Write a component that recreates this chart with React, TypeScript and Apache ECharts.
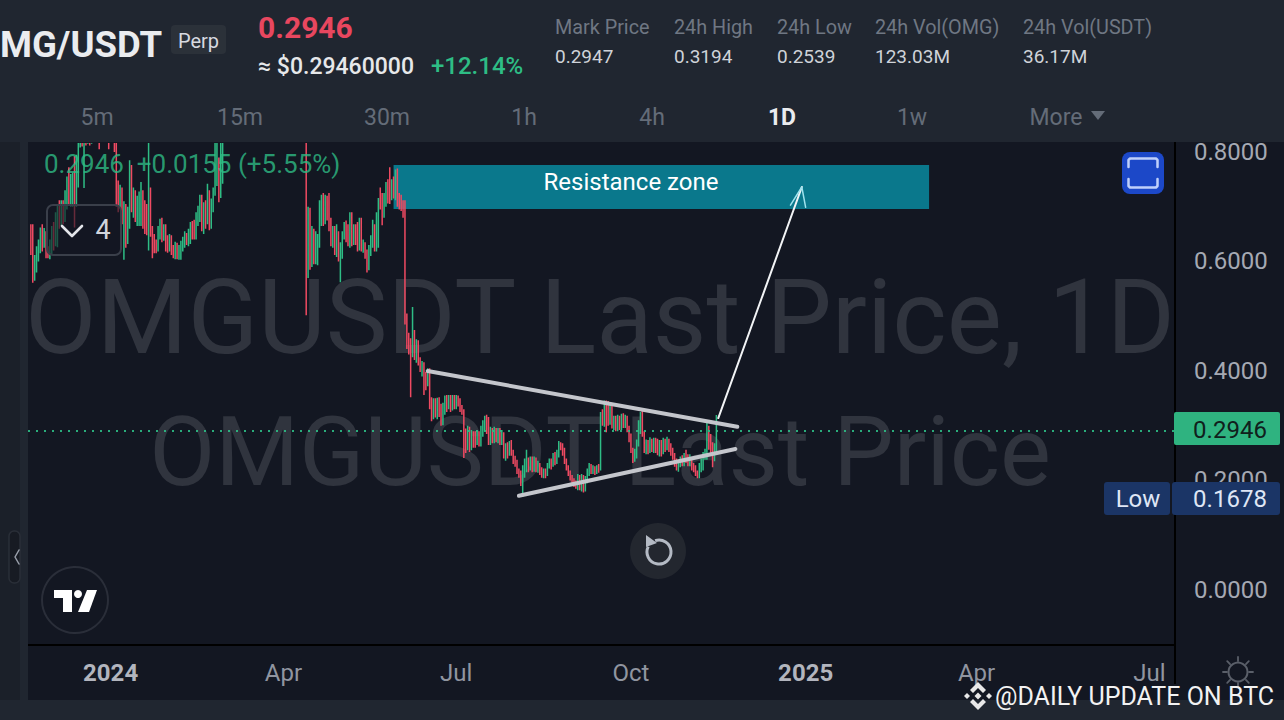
import React, { useEffect, useRef } from "react";
import * as echarts from "echarts";

// ---------- axis data ----------
const firstDay = "2023-11-19";
const dayCount = 604;
const tickDates = ["2024-01-01", "2024-04-01", "2024-07-01", "2024-10-01", "2025-01-01", "2025-04-01", "2025-07-01"];
const tickTexts = ["{b|2024}", "Apr", "Jul", "Oct", "{b|2025}", "Apr", "Jul"];
const priceTicks = [0, 0.2, 0.4, 0.6, 0.8];

// ---------- candles: [open, close, low, high] ----------
const winterStart = "2023-11-20";
const winterCandles = [
  [.650,.625,.612,.668],[.625,.590,.561,.668],[.590,.600,.565,.612],[.600,.618,.580,.628],[.618,.632,.600,.640],
  [.632,.652,.615,.662],[.652,.642,.618,.668],[.642,.650,.625,.661],[.650,.618,.606,.655],[.618,.612,.606,.628],
  [.612,.628,.604,.640],[.628,.645,.612,.665],[.645,.640,.620,.672],[.640,.665,.628,.690],[.665,.690,.626,.705],
  [.690,.680,.660,.712],[.680,.702,.665,.712],[.702,.690,.668,.712],[.690,.716,.672,.730],[.716,.745,.695,.755],
  [.745,.728,.705,.772],[.705,.738,.700,.760],[.706,.742,.700,.762],[.742,.708,.662,.792],[.708,.745,.700,.795],
  [.745,.835,.735,.860],[.835,.842,.808,.870],[.842,.826,.810,.860],[.826,.858,.734,.880],[.858,.835,.812,.868],
  [.835,.850,.815,.865],[.850,.830,.812,.860],[.830,.860,.815,.872],[.860,.872,.840,.885],[.872,.882,.850,.895],
  [.882,.862,.835,.892],[.862,.850,.805,.890],[.850,.875,.830,.885],[.875,.890,.850,.900],[.890,.870,.840,.898],
  [.870,.860,.835,.880],[.860,.845,.805,.872],[.845,.870,.825,.880],[.870,.850,.825,.878],[.850,.822,.800,.860],
  [.822,.736,.700,.850],[.736,.712,.690,.748],[.712,.726,.698,.740],[.726,.680,.668,.735],[.680,.695,.603,.710],
  [.695,.655,.625,.705],[.655,.690,.632,.700],[.680,.725,.660,.785],[.725,.705,.690,.776],[.705,.715,.680,.735],
  [.715,.690,.672,.730],[.690,.700,.665,.720],[.680,.710,.665,.728],[.690,.720,.665,.745],[.720,.695,.660,.730],
  [.695,.680,.650,.712],[.680,.660,.648,.705],[.650,.725,.620,.850],[.725,.660,.645,.735],[.660,.640,.606,.665],
  [.640,.625,.615,.650],[.625,.622,.615,.640],[.622,.658,.618,.665],[.658,.668,.640,.678],[.668,.650,.635,.680],
  [.650,.658,.638,.668],[.650,.640,.618,.668],[.640,.625,.616,.648],[.625,.640,.618,.650],[.640,.622,.612,.648],
  [.622,.612,.606,.630],[.612,.628,.604,.636],[.628,.610,.604,.634],[.610,.618,.603,.630],[.612,.628,.603,.638],
  [.628,.638,.618,.645],[.638,.648,.625,.655],[.648,.640,.630,.652],[.640,.650,.628,.660],[.650,.665,.632,.672],
  [.665,.658,.640,.674],[.665,.655,.640,.676],[.655,.680,.640,.690],[.680,.690,.665,.702],[.690,.716,.672,.722],
  [.716,.672,.655,.722],[.672,.702,.650,.708],[.702,.675,.660,.712],[.675,.725,.668,.742],[.725,.668,.657,.730],
  [.668,.705,.660,.715],[.705,.725,.690,.735],[.725,.760,.720,.825],[.760,.770,.738,.850],[.770,.725,.708,.790],
  [.725,.780,.716,.850],[.780,.810,.742,.850],
];

const springStart = "2024-04-13";
const springCandles = [
  [.736,.625,.502,.830],[.625,.660,.570,.700],[.660,.625,.585,.698],[.625,.650,.590,.665],[.650,.610,.595,.660],
  [.610,.640,.595,.655],[.615,.635,.593,.650],[.635,.680,.625,.712],[.680,.715,.665,.722],[.715,.685,.665,.725],
  [.685,.712,.668,.722],[.712,.695,.675,.720],[.712,.670,.655,.725],[.670,.640,.628,.680],[.640,.655,.625,.665],
  [.655,.625,.612,.665],[.625,.650,.608,.668],[.650,.605,.600,.655],[.600,.620,.562,.635],[.620,.650,.605,.655],
  [.650,.665,.640,.672],[.665,.650,.635,.675],[.650,.640,.628,.668],[.640,.665,.625,.690],[.665,.640,.628,.690],
  [.640,.660,.630,.668],[.660,.648,.630,.668],[.660,.635,.618,.672],[.635,.665,.620,.680],[.665,.625,.618,.680],
  [.625,.630,.616,.640],[.630,.618,.605,.635],[.618,.588,.580,.622],[.588,.620,.584,.630],[.620,.640,.610,.648],
  [.640,.655,.625,.676],[.655,.625,.618,.668],[.625,.675,.618,.690],[.675,.710,.625,.716],[.730,.705,.695,.735],
  [.705,.690,.666,.725],[.690,.715,.680,.725],[.715,.735,.700,.745],[.735,.728,.706,.750],[.735,.725,.705,.772],
  [.725,.738,.712,.750],[.738,.722,.715,.755],[.722,.745,.712,.768],[.745,.715,.700,.770],[.715,.710,.695,.725],
  [.710,.700,.692,.722],[.700,.695,.680,.712],
];

const dropStart = "2024-06-04";
const dropCandles = [
  [.703,.490,.485,.712],[.490,.450,.440,.505],[.450,.440,.430,.470],[.440,.430,.352,.460],[.430,.465,.425,.517],
  [.465,.440,.420,.475],[.435,.450,.415,.458],[.450,.418,.410,.456],[.418,.405,.398,.425],[.405,.412,.390,.418],
  [.412,.390,.356,.416],[.390,.380,.365,.398],[.380,.402,.372,.405],[.402,.340,.330,.405],[.340,.310,.308,.352],
  [.315,.345,.312,.350],[.345,.320,.315,.350],[.318,.345,.312,.351],[.345,.322,.316,.352],[.322,.310,.300,.340],
  [.310,.335,.301,.342],[.335,.350,.320,.355],[.350,.340,.325,.356],[.340,.352,.330,.356],[.352,.338,.325,.356],
  [.338,.350,.328,.356],[.350,.338,.330,.356],[.338,.352,.330,.356],[.352,.345,.335,.355],[.345,.330,.325,.350],
  [.330,.325,.320,.338],[.325,.285,.241,.330],[.285,.262,.250,.295],[.262,.290,.255,.300],[.290,.265,.252,.298],
  [.265,.282,.255,.292],[.282,.268,.260,.290],[.282,.270,.260,.290],[.270,.285,.265,.292],[.285,.272,.262,.290],
  [.272,.292,.262,.300],[.292,.300,.280,.310],[.300,.314,.290,.318],[.318,.295,.285,.320],[.295,.270,.265,.316],
  [.270,.288,.265,.298],[.288,.275,.268,.296],[.275,.292,.268,.298],[.292,.278,.270,.296],[.278,.290,.268,.296],
  [.290,.272,.265,.296],[.272,.282,.265,.292],[.282,.250,.240,.288],[.238,.262,.236,.268],[.262,.250,.240,.270],
  [.252,.262,.245,.272],[.262,.250,.245,.274],[.250,.235,.230,.256],[.235,.230,.225,.245],[.230,.215,.212,.238],
  [.215,.212,.205,.222],[.212,.195,.190,.218],[.195,.220,.170,.228],[.220,.232,.205,.240],[.222,.235,.215,.256],
  [.235,.222,.215,.242],[.222,.238,.218,.244],[.238,.225,.215,.244],[.225,.238,.216,.244],[.238,.222,.215,.242],
  [.222,.226,.214,.236],[.226,.215,.210,.232],[.215,.210,.205,.224],[.210,.215,.204,.222],[.215,.212,.204,.222],
  [.212,.228,.208,.232],[.228,.236,.222,.240],[.236,.228,.220,.240],[.228,.245,.225,.250],[.245,.235,.228,.252],
  [.235,.250,.230,.256],[.250,.265,.242,.272],[.265,.262,.255,.270],[.262,.255,.245,.268],[.255,.235,.230,.260],
  [.235,.222,.218,.240],[.222,.212,.208,.228],[.212,.205,.200,.218],[.205,.198,.195,.210],[.198,.194,.188,.204],
  [.194,.190,.185,.200],[.190,.204,.182,.212],[.204,.192,.182,.210],[.192,.205,.180,.212],[.205,.188,.178,.210],
  [.188,.200,.180,.208],[.200,.215,.195,.222],[.215,.228,.208,.232],[.228,.218,.212,.230],[.218,.222,.212,.228],
  [.222,.216,.210,.226],[.216,.224,.212,.228],[.224,.220,.214,.230],
];

const autumnStart = "2024-09-15";
const autumnCandles = [
  [.220,.318,.218,.325],[.318,.312,.300,.330],[.312,.342,.298,.346],[.342,.295,.288,.346],[.340,.310,.300,.345],
  [.310,.330,.302,.338],[.330,.302,.295,.336],[.302,.312,.292,.318],[.312,.296,.290,.318],[.296,.312,.290,.320],
  [.312,.298,.292,.318],[.298,.316,.292,.322],[.316,.305,.296,.323],[.305,.312,.296,.320],[.312,.295,.288,.318],
  [.295,.280,.270,.300],[.280,.255,.250,.286],[.255,.238,.232,.260],[.238,.250,.234,.258],[.250,.268,.240,.275],
  [.268,.300,.262,.310],[.300,.315,.285,.325],[.315,.285,.280,.327],[.285,.258,.250,.290],[.258,.268,.248,.275],
  [.268,.256,.248,.274],[.256,.270,.250,.279],[.270,.260,.252,.276],[.260,.272,.250,.278],[.272,.262,.250,.278],
  [.272,.258,.246,.276],[.258,.268,.244,.274],[.268,.252,.244,.274],[.252,.272,.248,.278],[.272,.262,.252,.276],
  [.262,.272,.255,.280],[.272,.262,.252,.276],[.262,.255,.245,.268],[.255,.245,.238,.260],[.245,.235,.225,.250],
  [.235,.220,.218,.240],[.220,.226,.216,.238],[.228,.238,.224,.244],[.238,.232,.226,.246],[.232,.244,.226,.250],
  [.244,.240,.232,.256],[.240,.232,.226,.248],[.232,.238,.226,.248],[.232,.225,.218,.238],[.225,.222,.215,.232],
  [.222,.212,.208,.228],[.212,.206,.204,.218],[.206,.222,.204,.232],[.222,.236,.215,.240],[.236,.246,.218,.252],
  [.246,.250,.238,.258],[.240,.300,.238,.305],[.296,.275,.256,.300],[.275,.265,.250,.285],[.265,.240,.224,.270],
  [.240,.262,.235,.268],[.2627,.2946,.2539,.3194],
];

// ---------- drawings on the chart: [day index, price] ----------
const upperTrend = [[210, 0.400], [373, 0.298]];
const lowerTrend = [[258, 0.172], [372, 0.2575]];
const targetArrow = [[362.6, 0.314], [407, 0.736]];
const arrowHead = [[401, 0.703], [407, 0.736], [409, 0.699]];
const zoneDays = [192, 474];
const zonePrices = [0.776, 0.696];
const lastPrice = 0.2946;

// ---------- header texts ----------
const statNames = ["Mark Price", "24h High", "24h Low", "24h Vol(OMG)", "24h Vol(USDT)"];
const statValues = ["0.2947", "0.3194", "0.2539", "123.03M", "36.17M"];
const statLefts = [555, 674, 777, 875, 1023];
const tabNames = ["5m", "15m", "30m", "1h", "4h", "1D", "1w", "More"];
const tabCenters = [97, 240, 387, 524, 652, 782, 912, 1056];

const GREEN = "#2ebd85";
const RED = "#ef4a62";
const PANEL = "#202630";
const BG = "#131722";
const FONT = "Roboto";

function dayLabel(i: number) {
  const d = new Date(Date.parse(firstDay + "T00:00:00Z") + i * 86400000);
  return d.toISOString().slice(0, 10);
}

function t(text: string, x: number, y: number, size: number, fill: string, extra: any = {}) {
  return {
    type: "text", x, y, z: extra.z ?? 20, silent: true,
    style: {
      text, fill,
      font: `${extra.weight ?? 400} ${size}px ${FONT}`,
      align: extra.align ?? "left",
      verticalAlign: "middle",
      opacity: extra.opacity ?? 1,
    },
  };
}
const box = (x: number, y: number, width: number, height: number, fill: string, r = 0, stroke?: string, z = 15, lineWidth = 2) => ({
  type: "rect", z, silent: true, shape: { x, y, width, height, r },
  style: { fill, stroke, lineWidth },
});
const stroke = (points: number[][], color: string, lineWidth = 2, z = 20) => ({
  type: "polyline", z, silent: true, shape: { points },
  style: { fill: "none", stroke: color, lineWidth, lineCap: "round", lineJoin: "round" },
});
const poly = (points: number[][], fill: string, z = 20) => ({
  type: "polygon", z, silent: true, shape: { points }, style: { fill },
});

function buildGraphics() {
  const g: any[] = [];
  // watermark, behind the candles
  g.push(t("OMGUSDT Last Price, 1D", 600, 317, 104, "#30343e", { align: "center", z: 0 }));
  g.push(t("OMGUSDT Last Price", 600, 452, 96, "#30343e", { align: "center", z: 0 }));

  // surrounding panels
  g.push(box(0, 0, 1284, 142, PANEL, 0, undefined, 12));
  g.push(box(0, 142, 28, 558, "#1b2029", 0, undefined, 12));
  g.push(box(20, 142, 8, 558, PANEL, 0, undefined, 12));
  g.push(box(0, 700, 1284, 20, PANEL, 0, undefined, 12));
  g.push(box(9, 531, 11, 52, "#171b23", 5, "#2a2f38", 13, 1.5));
  g.push(stroke([[19, 550], [15, 557], [19, 564]], "#9aa0ab", 1.5));
  g.push({ type: "line", z: 14, silent: true, shape: { x1: 1175, y1: 142, x2: 1175, y2: 684 }, style: { stroke: "#000", lineWidth: 2 } });

  // header
  g.push(t("MG/USDT", 0, 44, 36.5, "#eaecef", { weight: 700 }));
  g.push(box(171, 25, 55, 29, "#2b3139", 4, undefined, 15));
  g.push(t("Perp", 198.5, 41, 20, "#d7dae0", { align: "center" }));
  g.push(t("0.2946", 258, 27, 30, "#e8475f", { weight: 700 }));
  g.push(t("≈ $0.29460000", 258, 66, 23, "#e6e8ea", { weight: 500 }));
  g.push(t("+12.14%", 431, 66, 24, GREEN, { weight: 500 }));
  statNames.forEach((s, i) => {
    g.push(t(s, statLefts[i], 27, 19.8, "#6f7783"));
    g.push(t(statValues[i], statLefts[i], 56, 19, "#cfd3d9"));
  });
  tabNames.forEach((s, i) => {
    g.push(t(s, tabCenters[i], 117, 23, s === "1D" ? "#eaecef" : "#646c78", { align: "center", weight: s === "1D" ? 700 : 400 }));
  });
  g.push(poly([[1091, 111], [1105, 111], [1098, 120]], "#646c78"));

  // legend and collapse box
  g.push(t("0.2946  +0.0155 (+5.55%)", 44, 164, 26, GREEN, { opacity: 0.8 }));
  g.push(box(47, 205, 74, 50, "rgba(19,23,34,0.62)", 6, "#3a3f4a", 15));
  g.push(stroke([[62, 226], [72, 236], [82, 226]], "#e3e5ea", 2.6));
  g.push(t("4", 103, 230, 27, "#d1d4dc", { align: "center" }));

  // zone text
  g.push(t("Resistance zone", 631, 182, 24, "#ffffff", { align: "center" }));

  // fullscreen button
  g.push(box(1122, 152, 42, 42, "#1c48c8", 8, undefined, 15));
  g.push(stroke([[1128.5, 167], [1128.5, 160], [1130, 158.5], [1156, 158.5], [1157.5, 160], [1157.5, 167]], "#bfd0fb", 2.5));
  g.push(stroke([[1128.5, 179], [1128.5, 186], [1130, 187.5], [1156, 187.5], [1157.5, 186], [1157.5, 179]], "#bfd0fb", 2.5));

  // price tags
  g.push(box(1174, 412, 106, 33, "#2fb380", 2, undefined, 15));
  g.push(t(lastPrice.toFixed(4), 1230, 430, 24, "#10201c", { align: "center" }));
  g.push(box(1104, 482, 66, 33, "#1b3566", 3, undefined, 15));
  g.push(box(1172, 482, 108, 33, "#1b3566", 3, undefined, 15));
  g.push(t("Low", 1138, 499, 24, "#dfe6f5", { align: "center" }));
  g.push(t("0.1678", 1230, 499, 24, "#dfe6f5", { align: "center" }));

  // reset button
  g.push({ type: "circle", z: 15, silent: true, shape: { cx: 658, cy: 551, r: 28 }, style: { fill: "#23272f" } });
  g.push({ type: "arc", z: 20, silent: true, shape: { cx: 659, cy: 552, r: 12, startAngle: -1.9, endAngle: 3.6, clockwise: true }, style: { stroke: "#b4bac4", lineWidth: 3, fill: "none" } });
  g.push(poly([[646, 535], [646, 547], [657, 543]], "#b4bac4"));

  // TradingView badge
  g.push({ type: "circle", z: 15, silent: true, shape: { cx: 75, cy: 600, r: 33 }, style: { fill: "none", stroke: "#2a2e39", lineWidth: 2 } });
  g.push(poly([[54, 590], [72, 590], [72, 612], [63, 612], [63, 598], [54, 598]], "#ffffff"));
  g.push({ type: "circle", z: 20, silent: true, shape: { cx: 78, cy: 594, r: 4 }, style: { fill: "#ffffff" } });
  g.push(poly([[87, 590], [97, 590], [89, 612], [78, 612]], "#ffffff"));

  // settings sun
  g.push({ type: "circle", z: 15, silent: true, shape: { cx: 1238, cy: 672, r: 9.5 }, style: { fill: "none", stroke: "#5a5f69", lineWidth: 2 } });
  [[0, -1], [1, 0], [0, 1], [-1, 0], [0.72, -0.72], [0.72, 0.72], [-0.72, 0.72], [-0.72, -0.72]].forEach(([a, b]) => {
    g.push(stroke([[1238 + a * 11, 672 + b * 11], [1238 + a * 15, 672 + b * 15]], "#5a5f69", 1.8, 15));
  });

  // publisher mark
  g.push(poly([[978, 682], [986, 690], [983, 693], [978, 688], [973, 693], [970, 690]], "#e8e8e8", 30));
  g.push(poly([[978, 710], [986, 702], [983, 699], [978, 704], [973, 699], [970, 702]], "#e8e8e8", 30));
  g.push(poly([[978, 692.5], [981.5, 696], [978, 699.5], [974.5, 696]], "#e8e8e8", 30));
  g.push(poly([[967, 693], [970, 696], [967, 699], [964, 696]], "#e8e8e8", 30));
  g.push(poly([[989, 693], [992, 696], [989, 699], [986, 696]], "#e8e8e8", 30));
  g.push(t("@DAILY UPDATE ON BTC", 995, 696, 25, "#f2f2f2", { z: 30 }));
  return g;
}

export default function App() {
  const ref = useRef<HTMLDivElement>(null);
  useEffect(() => {
    document.body.style.margin = "0";
    document.body.style.background = BG;
    const chart = echarts.init(ref.current!, undefined, { renderer: "svg" });
    const days = Array.from({ length: dayCount }, (_, i) => dayLabel(i));
    const candles: any[] = days.map(() => "-");
    const place = (start: string, rows: number[][]) => {
      const s = days.indexOf(start);
      rows.forEach((r, i) => { candles[s + i] = r; });
    };
    place(winterStart, winterCandles);
    place(springStart, springCandles);
    place(dropStart, dropCandles);
    place(autumnStart, autumnCandles);

    const drawing = (data: number[][], color: string, width: number) => ({
      type: "line", data, silent: true, symbol: "none", z: 3, clip: false,
      lineStyle: { color, width, cap: "round" }, animation: false,
    });

    chart.setOption({
      animation: false,
      backgroundColor: BG,
      textStyle: { fontFamily: FONT },
      grid: { left: 28, top: 143, width: 1147, height: 502 },
      xAxis: {
        type: "category", data: days, boundaryGap: true,
        axisLine: { show: true, onZero: false, lineStyle: { color: "#000", width: 2 } },
        axisTick: { show: false }, splitLine: { show: false },
        axisLabel: {
          margin: 16, fontSize: 24, color: "#9095a0", fontFamily: FONT,
          hideOverlap: false,
          interval: (_: number, v: string) => tickDates.includes(v),
          formatter: (v: string) => tickTexts[tickDates.indexOf(v)] ?? "",
          rich: { b: { fontSize: 24, fontWeight: 700, color: "#b2b5be", fontFamily: FONT } },
        },
      },
      yAxis: {
        type: "value", position: "right", min: -0.1005, max: 0.8164, scale: true,
        axisLine: { show: false }, axisTick: { show: false }, splitLine: { show: false },
        axisLabel: {
          customValues: priceTicks, margin: 19, fontSize: 24, color: "#a5a9b3", fontFamily: FONT,
          padding: [4, 0, 0, 0],
          formatter: (v: number) => v.toFixed(4),
        },
      },
      graphic: { elements: buildGraphics() },
      series: [
        {
          type: "line", data: [], silent: true, z: 1,
          markArea: {
            silent: true,
            itemStyle: { color: "#0a788c" },
            data: [[{ xAxis: zoneDays[0], yAxis: zonePrices[0] }, { xAxis: zoneDays[1], yAxis: zonePrices[1] }]],
          },
        },
        {
          type: "candlestick", data: candles, barWidth: 3, z: 2, clip: true, silent: true,
          itemStyle: { color: GREEN, color0: RED, borderColor: GREEN, borderColor0: RED, borderWidth: 1.5 },
          markLine: {
            silent: true, symbol: "none", label: { show: false },
            lineStyle: { color: GREEN, width: 2, type: [2, 6], opacity: 0.9 },
            data: [{ yAxis: lastPrice }],
          },
        },
        drawing(upperTrend, "#c4c6cc", 4),
        drawing(lowerTrend, "#c4c6cc", 4),
        drawing(targetArrow, "#f2f4f6", 2),
        drawing(arrowHead, "#9fe3ee", 1.5),
      ],
    });
    return () => chart.dispose();
  }, []);
  return <div ref={ref} style={{ position: "fixed", left: 0, top: 0, width: 1284, height: 720 }} />;
}
